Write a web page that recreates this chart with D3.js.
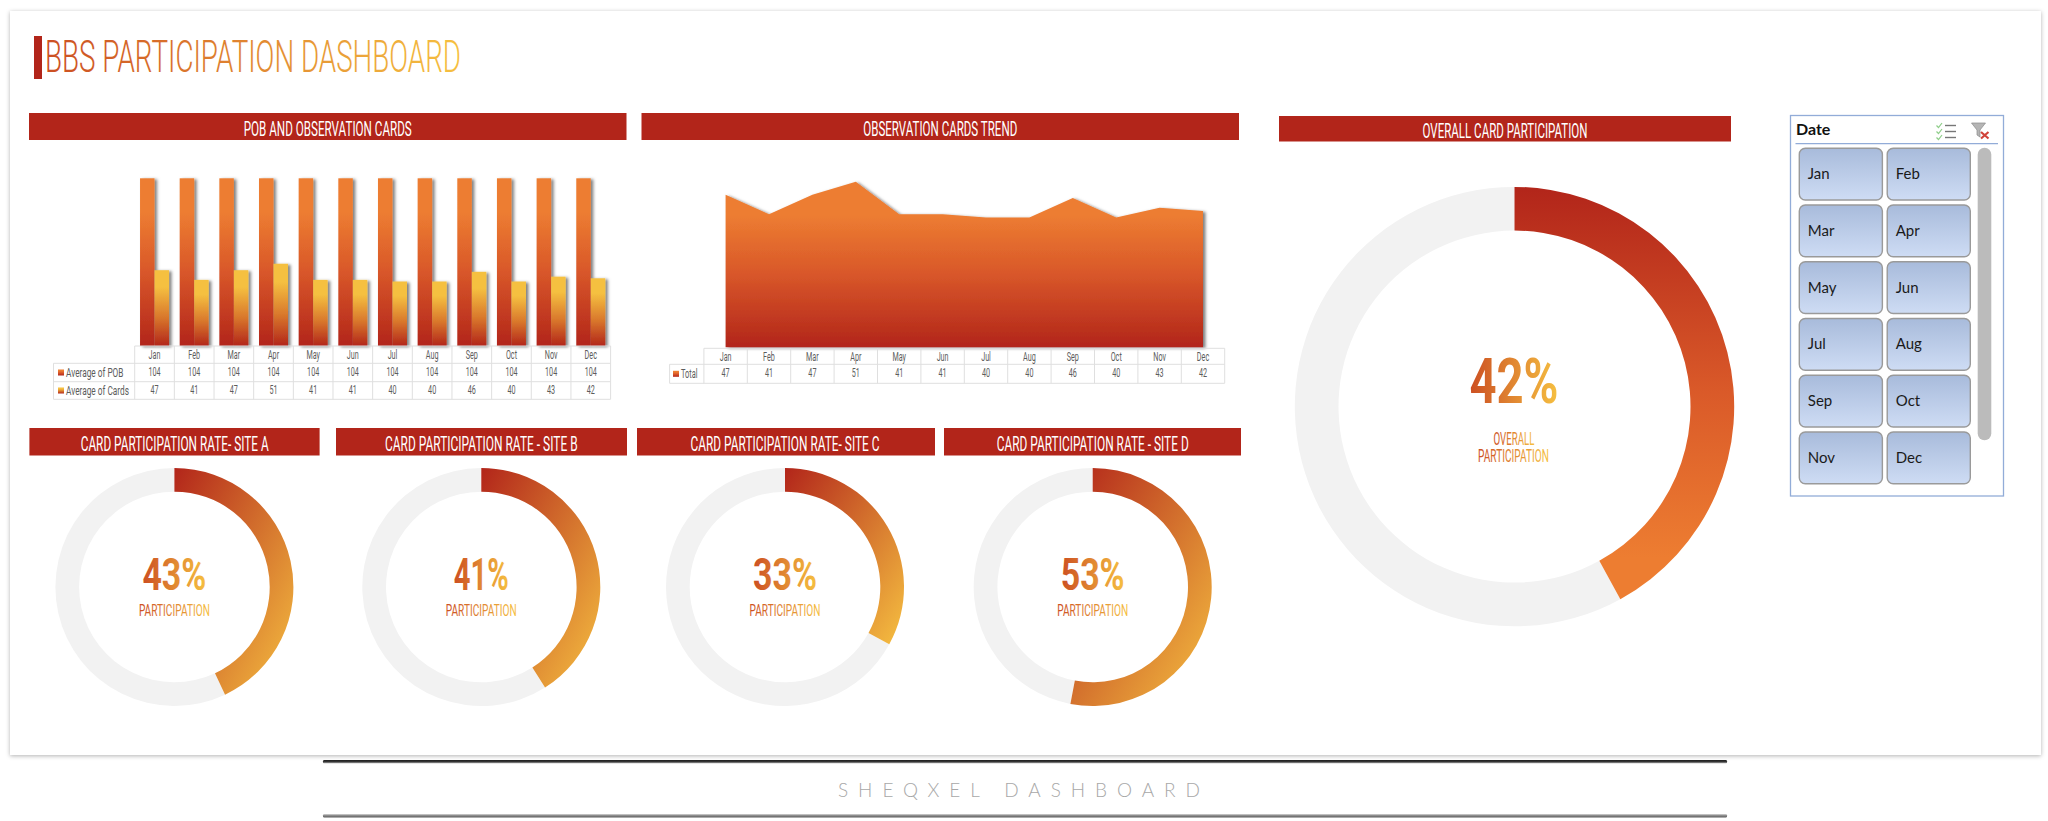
<!DOCTYPE html>
<html>
<head>
<meta charset="utf-8">
<title>BBS Participation Dashboard</title>
<script src="https://cdn.jsdelivr.net/npm/d3@7"></script>
<style>
  html, body { margin: 0; padding: 0; background: #fff; overflow: hidden; }
  svg { display: block; }
</style>
</head>
<body>
<svg id="dash" width="2048" height="821" font-family="Roboto, 'Liberation Sans', sans-serif"></svg>
<script>
// Monthly figures
const months = ["Jan","Feb","Mar","Apr","May","Jun","Jul","Aug","Sep","Oct","Nov","Dec"];
const averagePob = [104,104,104,104,104,104,104,104,104,104,104,104];
const averageCards = [47,41,47,51,41,41,40,40,46,40,43,42];
const totalCards = [47,41,47,51,41,41,40,40,46,40,43,42];

// Participation rates, in percent
const siteNames = ["CARD PARTICIPATION RATE- SITE A","CARD PARTICIPATION RATE - SITE B","CARD PARTICIPATION RATE- SITE C","CARD PARTICIPATION RATE - SITE D"];
const siteRates = [43,41,33,53];
const overallRate = 42;

const RED = "#b2251a", ORANGE = "#ed7d31", YELLOW = "#f5c040";
const svg = d3.select("#dash");
const defs = svg.append("defs");

function gradient(id, stops, x2, y2) {
  const g = defs.append("linearGradient").attr("id", id)
    .attr("x1", 0).attr("y1", 0).attr("x2", x2).attr("y2", y2);
  stops.forEach(([o, c]) => g.append("stop").attr("offset", o).attr("stop-color", c));
}
gradient("gBarOrange", [[0, ORANGE], [0.2, ORANGE], [0.55, "#d9582a"], [1, RED]], 0, 1);
gradient("gBarYellow", [[0, YELLOW], [0.22, YELLOW], [0.62, "#d9782c"], [1, RED]], 0, 1);
gradient("gRing", [[0, RED], [1, "#f6c041"]], 1, 1);
gradient("gRingBig", [[0, RED], [0.5, "#da5a29"], [0.9, ORANGE], [1, ORANGE]], 0, 1);
gradient("gText", [[0, "#cc4f22"], [1, "#f6c041"]], 1, 0);
gradient("gButton", [[0, "#a8bbdb"], [1, "#cedcf4"]], 0, 1);
gradient("gFootTop", [[0, "#1c1c1c"], [0.55, "#3a3a3a"], [1, "#cfcfcf"]], 0, 1);
gradient("gFootBottom", [[0, "#d8d8d8"], [0.45, "#8a8a8a"], [1, "#5a5a5a"]], 0, 1);

function shadow(id, dx, dy, sd, op) {
  defs.append("filter").attr("id", id)
    .attr("x", "-30%").attr("y", "-30%").attr("width", "170%").attr("height", "170%")
    .append("feDropShadow")
    .attr("dx", dx).attr("dy", dy).attr("stdDeviation", sd)
    .attr("flood-color", "#000").attr("flood-opacity", op);
}
shadow("shMark", 2.5, 1, 1.4, 0.5);
shadow("shPanel", 0, 1, 2, 0.3);

// Fits a text node to a given pixel width by condensing its glyphs
function fit(sel, width) {
  sel.attr("textLength", width).attr("lengthAdjust", "spacingAndGlyphs");
  return sel;
}
// Condenses text nodes by a fixed factor of their natural width
function squeeze(sel, k) {
  sel.each(function () {
    const w = this.getComputedTextLength();
    d3.select(this).attr("textLength", w * k).attr("lengthAdjust", "spacingAndGlyphs");
  });
}

// Dashboard sheet
svg.append("rect").attr("x", 10).attr("y", 11).attr("width", 2031).attr("height", 744)
  .attr("fill", "#fff").attr("filter", "url(#shPanel)");

// Heading
svg.append("rect").attr("x", 34).attr("y", 36).attr("width", 8).attr("height", 43).attr("fill", RED);
fit(svg.append("text").attr("x", 45).attr("y", 72).attr("font-size", 45).attr("font-weight", 300)
  .attr("fill", "url(#gText)").text("BBS PARTICIPATION DASHBOARD"), 416);

function header(x0, x1, y0, y1, label, textW, baseline, size, cx) {
  svg.append("rect").attr("x", x0).attr("y", y0).attr("width", x1 - x0).attr("height", y1 - y0).attr("fill", RED);
  fit(svg.append("text").attr("x", cx === undefined ? (x0 + x1) / 2 : cx).attr("y", baseline)
    .attr("text-anchor", "middle").attr("font-size", size)
    .attr("fill", "#fff").text(label), textW);
}
header(29, 626.5, 113, 140, "POB AND OBSERVATION CARDS", 168, 135.7, 19.7);
header(641.5, 1239, 113, 140, "OBSERVATION CARDS TREND", 154, 135.7, 19.7);
header(1279, 1731, 116, 141.5, "OVERALL CARD PARTICIPATION", 165, 138.4, 19.7, 1505);

// Data table under a chart: one month row, then a row per series
function dataTable(x, rowY, legendX, rows) {
  const g = svg.append("g");
  const [left, right] = x.range();
  const line = (x1, y1, x2, y2) => g.append("line")
    .attr("x1", x1).attr("y1", y1).attr("x2", x2).attr("y2", y2)
    .attr("stroke", "#dfdfdf").attr("stroke-width", 1);
  rowY.forEach((y, i) => line(i === 0 ? left : legendX, y, right, y));
  line(legendX, rowY[1], legendX, rowY[rowY.length - 1]);
  d3.range(months.length + 1).forEach(i => {
    const px = left + i * x.step();
    line(px, rowY[0], px, rowY[rowY.length - 1]);
  });
  const axisRow = (y, fmt) => {
    const a = g.append("g").attr("transform", `translate(0,${y})`)
      .call(d3.axisBottom(x).tickSize(0).tickPadding(4).tickFormat(fmt));
    a.select(".domain").remove();
    a.selectAll("text").attr("font-size", 12).attr("font-family", "Roboto, sans-serif")
      .attr("fill", "#5c5c5c");
    squeeze(a.selectAll("text"), 0.6);
  };
  axisRow(rowY[0], d => d);
  rows.forEach((r, i) => {
    axisRow(rowY[i + 1], (_, k) => r.values[k]);
    const mid = (rowY[i + 1] + rowY[i + 2]) / 2;
    g.append("rect").attr("x", r.swatchX).attr("y", mid - 3).attr("width", 6).attr("height", 6).attr("fill", `url(#${r.fill})`);
    // The legend label is scaled as a whole so its box stays inside the legend column
    g.append("text").attr("transform", `translate(${r.swatchX + 8},${mid + 4}) scale(${r.labelK},1)`)
      .attr("font-size", 12).attr("fill", "#5c5c5c").text(r.label);
  });
}

// POB and cards columns
{
  const x = d3.scaleBand().domain(months).range([134.7, 610.6]).paddingInner(0).paddingOuter(0);
  const y = d3.scaleLinear().domain([0, 104]).range([346, 178.3]);
  const barW = 14.5;
  const g = svg.append("g");
  const columns = (vals, fill, offset) => g.append("g").selectAll("rect").data(vals).join("rect")
    .attr("x", (_, i) => x(months[i]) + x.bandwidth() / 2 + offset)
    .attr("y", d => y(d)).attr("width", barW).attr("height", d => y(0) - y(d))
    .attr("fill", fill).attr("filter", "url(#shMark)");
  // Each pair is painted in series order so the cards column overlaps the POB shadow
  columns(averagePob, "url(#gBarOrange)", -barW);
  columns(averageCards, "url(#gBarYellow)", 0);
  dataTable(x, [346, 363.3, 381.7, 399.3], 53.5, [
    { label: "Average of POB", values: averagePob, fill: "gBarOrange", swatchX: 58, labelK: 0.69 },
    { label: "Average of Cards", values: averageCards, fill: "gBarYellow", swatchX: 58, labelK: 0.69 }
  ]);
}

// Observation cards area
{
  const x = d3.scaleBand().domain(months).range([703.9, 1224.7]).padding(0);
  const y = d3.scaleLinear().domain([0, 51]).range([347.3, 181.7]);
  const area = d3.area()
    .x((_, i) => x(months[i]) + x.bandwidth() / 2)
    .y0(y(0)).y1(d => y(d));
  svg.append("path").datum(totalCards).attr("d", area)
    .attr("fill", "url(#gBarOrange)").attr("filter", "url(#shMark)");
  dataTable(x, [348.3, 364.3, 383.3], 669.6, [
    { label: "Total", values: totalCards, fill: "gBarOrange", swatchX: 673, labelK: 0.62 }
  ]);
}

// Ring gauge: a filled arc over a pale track, starting at twelve o'clock
function ring(cx, cy, rOuter, rInner, value, fill) {
  const g = svg.append("g").attr("transform", `translate(${cx},${cy})`);
  const arcs = d3.pie().sort(null)([value, 100 - value]);
  const arc = d3.arc().innerRadius(rInner).outerRadius(rOuter);
  g.append("path").attr("d", arc(arcs[1])).attr("fill", "#f2f2f2");
  g.append("path").attr("d", arc(arcs[0])).attr("fill", fill);
}

// Site gauges
const siteBars = [[29.4, 319.6, 188, 174.7], [336, 627, 192.6, 481.3], [637, 935, 189, 785], [944, 1241, 192, 1092.7]];
const siteCentres = [174.4, 481.3, 785, 1092.7];
siteNames.forEach((name, i) => {
  const b = siteBars[i];
  header(b[0], b[1], 428, 455.5, name, b[2], 451, 20.6, b[3]);
  ring(siteCentres[i], 587, 119, 95.3, siteRates[i], "url(#gRing)");
  fit(svg.append("text").attr("x", siteCentres[i]).attr("y", 590).attr("text-anchor", "middle")
    .attr("font-size", 43.6).attr("font-weight", 700).attr("fill", "url(#gText)")
    .text(siteRates[i] + "%"), siteRates[i] === 41 ? 55 : 64);
  fit(svg.append("text").attr("x", siteCentres[i]).attr("y", 616).attr("text-anchor", "middle")
    .attr("font-size", 17).attr("fill", "url(#gText)").text("PARTICIPATION"), 71);
});

// Overall gauge
ring(1514.5, 406.6, 219.7, 176, overallRate, "url(#gRingBig)");
fit(svg.append("text").attr("x", 1514).attr("y", 403).attr("text-anchor", "middle")
  .attr("font-size", 63).attr("font-weight", 700).attr("fill", "url(#gText)").text(overallRate + "%"), 89);
fit(svg.append("text").attr("x", 1514).attr("y", 444.5).attr("text-anchor", "middle")
  .attr("font-size", 17.5).attr("fill", "url(#gText)").text("OVERALL"), 41);
fit(svg.append("text").attr("x", 1513.5).attr("y", 461.5).attr("text-anchor", "middle")
  .attr("font-size", 17.5).attr("fill", "url(#gText)").text("PARTICIPATION"), 71);

// Date slicer
{
  const g = svg.append("g").attr("font-family", "Lato, sans-serif");
  g.append("rect").attr("x", 1790.5).attr("y", 115.5).attr("width", 213).attr("height", 380.5)
    .attr("fill", "#fff").attr("stroke", "#92acd8").attr("stroke-width", 1.3);
  g.append("text").attr("x", 1796).attr("y", 135)
    .attr("font-size", 16).attr("font-weight", 700).attr("fill", "#111").text("Date");
  g.append("line").attr("x1", 1795.5).attr("x2", 1998).attr("y1", 143.7).attr("y2", 143.7)
    .attr("stroke", "#92acd8").attr("stroke-width", 1.2);

  // Multi-select toggle
  const ms = g.append("g").attr("transform", "translate(1936,123)");
  [0, 6, 12].forEach(dy => {
    ms.append("path").attr("d", `M0.5 ${dy + 2.5} L2.5 ${dy + 4.5} L6 ${dy}`).attr("fill", "none")
      .attr("stroke", "#8fce8a").attr("stroke-width", 1.2);
    ms.append("line").attr("x1", 9).attr("x2", 20).attr("y1", dy + 2.5).attr("y2", dy + 2.5)
      .attr("stroke", "#777").attr("stroke-width", 1.4);
  });
  // Clear-filter funnel
  const fu = g.append("g").attr("transform", "translate(1971.5,123)");
  fu.append("path").attr("d", "M0 0 H14 L8.5 7 V14 L5.5 12 V7 Z").attr("fill", "#b5b5b5").attr("stroke", "#8a8a8a").attr("stroke-width", 0.7);
  fu.append("path").attr("d", "M9.5 9 L17 15.5 M17 9 L9.5 15.5").attr("stroke", "#d0433a").attr("stroke-width", 2.2);

  const col = d3.scaleBand().domain([0, 1]).range([1799.3, 1970.3]).paddingInner(0.055);
  const row = d3.scaleBand().domain(d3.range(6)).range([148.3, 483.7]).paddingInner(0.09);
  const btn = g.selectAll("g.slicer-button").data(months).join("g").attr("class", "slicer-button")
    .attr("transform", (_, i) => `translate(${col(i % 2)},${row(Math.floor(i / 2))})`);
  btn.append("rect").attr("width", col.bandwidth()).attr("height", row.bandwidth()).attr("rx", 6)
    .attr("fill", "url(#gButton)").attr("stroke", "#9a9a9a").attr("stroke-width", 1.4);
  btn.append("text").attr("x", 8.5).attr("y", row.bandwidth() / 2 + 5)
    .attr("font-size", 15).attr("fill", "#1a1a1a").text(d => d);

  g.append("rect").attr("x", 1977.7).attr("y", 147.7).attr("width", 13.6).attr("height", 292.5).attr("rx", 6.8).attr("fill", "#bbbbbb");
}

// Footer strip
{
  const g = svg.append("g");
  g.append("rect").attr("x", 323).attr("y", 760).attr("width", 1404).attr("height", 3.5).attr("rx", 1.2)
    .attr("fill", "url(#gFootTop)");
  g.append("rect").attr("x", 323).attr("y", 814).attr("width", 1404).attr("height", 3.5).attr("rx", 1.2)
    .attr("fill", "url(#gFootBottom)");
  g.append("text").attr("x", 838).attr("y", 797).attr("font-family", "Lato, sans-serif").attr("font-weight", 300)
    .attr("font-size", 19).attr("fill", "#a8a8a8").attr("textLength", 362).attr("lengthAdjust", "spacing")
    .text("SHEQXEL DASHBOARD");
}
</script>
</body>
</html>
